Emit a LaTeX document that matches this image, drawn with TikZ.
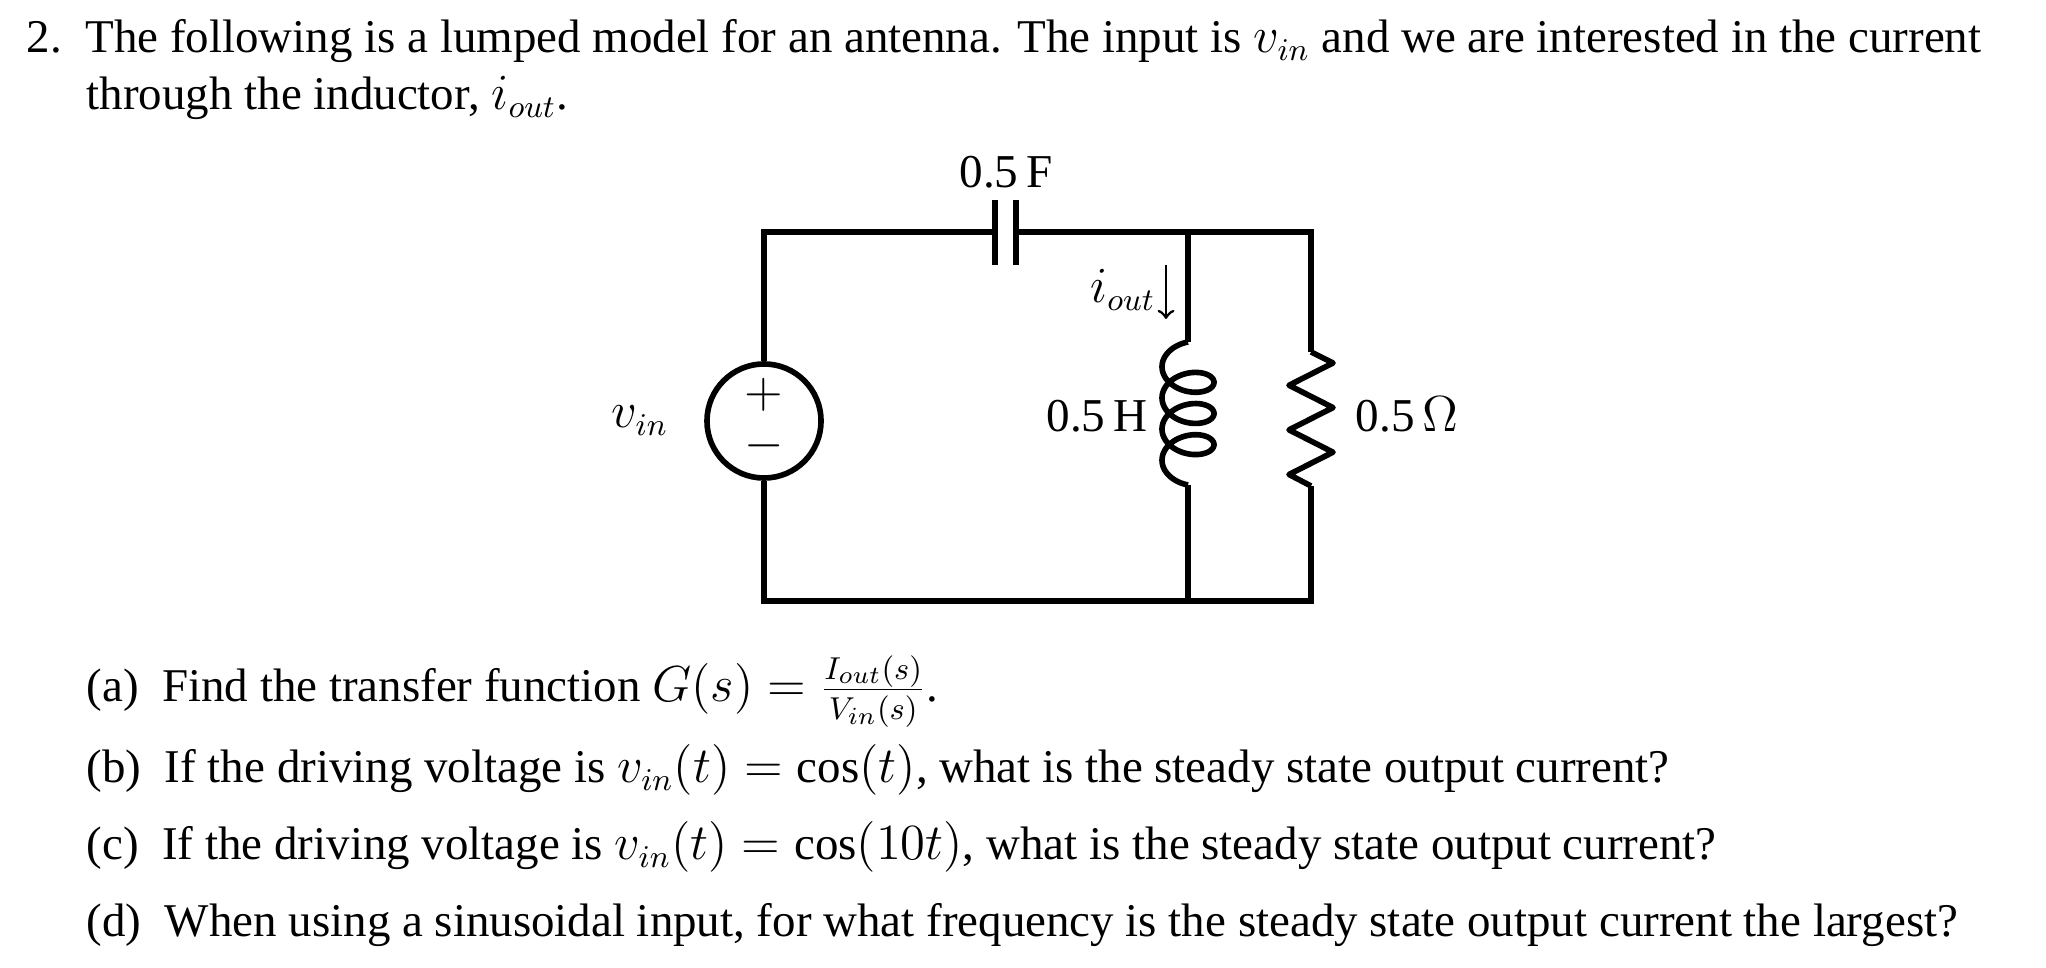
\documentclass[tikz,border=0pt]{standalone}
\usepackage{fontspec}
\setmainfont{Liberation Serif}
\begin{document}
\begin{tikzpicture}[x=0.01cm,y=-0.01cm,
  wire/.style={line width=1.6pt},
  txt/.style={anchor=base west,inner sep=0pt,font=\fontsize{13.35}{16}\selectfont},
  lbl/.style={inner sep=0pt,font=\fontsize{13.4}{16}\selectfont}]
\useasboundingbox (0,0) rectangle (2046,968);
\node[txt] (l1) at (26,53) {2.\ \ The following is a lumped model for an antenna. The input is $v_{in}$ and we are interested in the current};
\node[txt] (l2) at (86,110) {through the inductor, $i_{out}$.};
% nodes
\coordinate (tl) at (764,232); \coordinate (bl) at (764,601);
\coordinate (c1) at (995,232); \coordinate (c2) at (1016,232);
\coordinate (jt) at (1188,232); \coordinate (jb) at (1188,601);
\coordinate (rt) at (1311,232); \coordinate (rb) at (1311,601);
\coordinate (lt) at (1188,342); \coordinate (lb) at (1188,485);
\coordinate (zt) at (1311,352); \coordinate (zb) at (1311,486);
\node[draw,line width=1.6pt,circle,minimum size=1.14cm,inner sep=0pt] (src) at (764,421) {};
\node[lbl] at (764,395) {$+$};
\node[lbl] at (764,446) {$-$};
\draw[wire] (src.north) -- (tl) -- (c1);
\draw[wire] (c2) -- (jt) -- (rt) -- (zt);
\draw[wire] (c1 |- 0,200) -- (c1 |- 0,265);
\draw[wire] (c2 |- 0,200) -- (c2 |- 0,265);
\draw[wire] (src.south) -- (bl) -- (jb) -- (rb) -- (zb);
\draw[wire] (jt) -- (lt);
\draw[wire] (lb) -- (jb);
\draw[wire,line join=round] plot[domain=0:1260,samples=240,smooth] ({1188-26*sin(\x)},{342+0.0865*\x+17-17*cos(\x)});
\draw[wire,line join=round] (zt) -- ++(22,11) -- ++(-44,22.3) -- ++(44,22.3) -- ++(-44,22.3) -- ++(44,22.3) -- ++(-44,22.3) -- (zb);
% labels
\node[lbl,anchor=base] at (1006,188) {0.5\,F};
\node[lbl,anchor=base east] at (1156,303) {$i_{out}$};
\draw[line width=0.8pt,->] (1166,265) -- (1166,319);
\node[lbl,anchor=base east] at (1148,432) {0.5\,H};
\node[lbl,anchor=base west] at (1355,432) {0.5\,$\Omega$};
\node[lbl,anchor=base] at (640,428) {$v_{in}$};
% questions
\node[txt] (qa) at (86,702) {(a)\ \ Find the transfer function $G(s)=\frac{I_{out}(s)}{V_{in}(s)}$.};
\node[txt] (qb) at (86,783) {(b)\ \ If the driving voltage is $v_{in}(t)=\cos(t)$, what is the steady state output current?};
\node[txt] (qc) at (86,860) {(c)\ \ If the driving voltage is $v_{in}(t)=\cos(10t)$, what is the steady state output current?};
\node[txt] (qd) at (86,937) {(d)\ \ When using a sinusoidal input, for what frequency is the steady state output current the largest?};
\end{tikzpicture}
\end{document}
